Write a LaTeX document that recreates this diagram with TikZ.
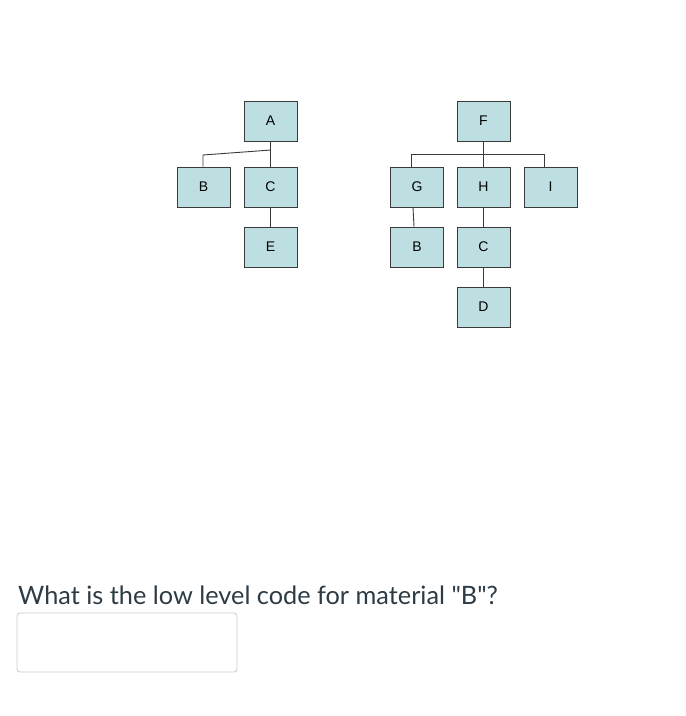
\documentclass[tikz,border=0pt]{standalone}
\usepackage{fontspec}
\setmainfont{Liberation Sans}
\newfontfamily\qfont{Lato}
\definecolor{partfill}{HTML}{BEDFE2}
\definecolor{partline}{HTML}{3A3A3A}
\definecolor{qtext}{HTML}{2D3B45}
\definecolor{boxline}{HTML}{C7CDD1}
\tikzset{
  part/.style={draw=partline, fill=partfill, line width=0.9pt, minimum width=53pt, minimum height=40pt, inner sep=0pt, font=\fontsize{14}{14}\selectfont},
  link/.style={draw=partline, line width=0.9pt}
}
\begin{document}
\begin{tikzpicture}[x=1pt, y=-1pt]
            \useasboundingbox (0,0) rectangle (686,716);
            % first tree
            \node[part] (A) at (270.5,121) {A};
            \node[part] (B) at (203.5,187) {B};
            \node[part] (C) at (270.5,187) {C};
            \node[part] (E) at (270.5,247) {E};
            \coordinate (ja) at (271,150);
            \coordinate (jb) at (203,155);
            \draw[link] (A.south) -- (C.north);
            \draw[link] (ja) -- (jb) -- (B.north -| jb);
            \draw[link] (C.south) -- (E.north);
            % second tree
            \node[part] (F) at (483.5,121) {F};
            \node[part] (G) at (417,187) {G};
            \node[part] (H) at (483.5,187) {H};
            \node[part] (I) at (550.5,187) {I};
            \node[part] (B2) at (417,247) {B};
            \node[part] (C2) at (483.5,247) {C};
            \node[part] (D) at (483.5,307) {D};
            \coordinate (fl) at (411,154);
            \coordinate (fr) at (544,154);
            \draw[link] (F.south) -- (H.north);
            \draw[link] (G.north -| fl) -- (fl) -- (fr) -- (I.north -| fr);
            \draw[link] ([xshift=-4pt]G.south) -- ([xshift=-3pt]B2.north);
            \draw[link] (H.south) -- (C2.north);
            \draw[link] (C2.south) -- (D.north);
            % question
            \node[anchor=base west, inner sep=0pt, text=qtext, font=\qfont\fontsize{25.3}{25.3}\selectfont] (q) at (18,604) {What is the low level code for material "B"?};
            \node[draw=boxline, line width=0.8pt, rounded corners=3pt, minimum width=220pt, minimum height=59pt, inner sep=0pt] (ans) at (127,642.5) {};
\end{tikzpicture}
\end{document}
